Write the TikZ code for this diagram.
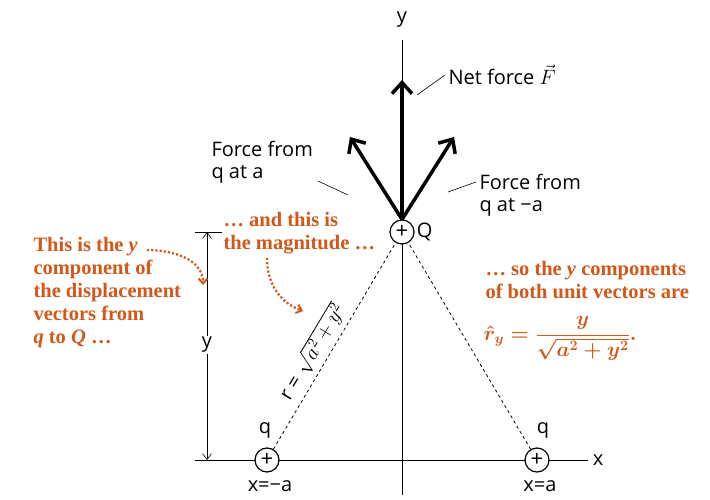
\documentclass[tikz,border=0pt]{standalone}
\usepackage{fontspec}
\setmainfont{Liberation Serif}
\newfontfamily\hand{Open Sans}
\usetikzlibrary{arrows.meta}
\definecolor{org}{HTML}{D2581A}
\begin{document}
\begin{tikzpicture}[x=1pt,y=-1pt,
  hw/.style={font=\hand\fontsize{20}{22}\selectfont},
  note/.style={font=\bfseries\fontsize{20.5}{23}\selectfont,text=org,align=left},
  chg/.style={circle,draw,line width=1.2pt,minimum size=24pt,inner sep=0pt,font=\hand\fontsize{22}{22}\selectfont},
  force/.style={line width=3.5pt,-{Straight Barb[length=11pt,width=20pt,line width=3.5pt]}},
  lead/.style={line width=0.6pt},
  dot/.style={org,line width=2.2pt,dotted,-{Straight Barb[length=5pt,width=9pt,line width=2pt,sep=0pt]}}]
\useasboundingbox (0,0) rectangle (710,500);
% axes
\coordinate (yb) at (402,495); \coordinate (yt) at (402,40);
\coordinate (xl) at (220,460); \coordinate (xr) at (588,460);
\draw[line width=0.7pt] (yb) -- (yt);
\draw[line width=0.7pt] (xl) -- (xr);
\node[hw] (ylab) at (402,20) {y};
\node[hw] (xlab) at (598,460) {x};
% charges
\node[chg,fill=white] (Q) at (402,232) {+};
\node[hw,anchor=west,inner sep=2pt] (Qlab) at (Q.east) {Q};
\node[chg,fill=white] (q1) at (267,460) {+};
\node[chg,fill=white] (q2) at (537,460) {+};
\node[hw] (q1l) at (265,430) {q};
\node[hw] (q2l) at (543,430) {q};
\node[hw] (x1l) at (270,486) {x=−a};
\node[hw] (x2l) at (540,486) {x=a};
\draw[dashed,line width=0.8pt] (q1) -- (Q);
\draw[dashed,line width=0.8pt] (q2) -- (Q);
% dimension
\coordinate (dt) at (207,232); \coordinate (db) at (207,460);
\draw[line width=0.5pt] (195,232) -- (222,232);
\draw[line width=0.5pt] (195,460) -- (222,460);
\node[hw,fill=white,inner sep=1pt] (dy) at (207,345) {y};
\draw[line width=0.6pt,-{Straight Barb[length=6pt,width=9pt]}] (dy) -- (dt);
\draw[line width=0.6pt,-{Straight Barb[length=6pt,width=9pt]}] (dy) -- (db);
% forces
\coordinate (Fn) at (402,80); \coordinate (Fl) at (350,137); \coordinate (Fr) at (454,137);
\draw[force] (Q.north) -- (Fn);
\draw[force] (Q.north) -- (Fl);
\draw[force] (Q.north) -- (Fr);
\node[hw,anchor=west] (net) at (445,75) {Net force $\vec{F}$};
\draw[lead] (417,95) -- (net.west);
\node[hw,align=left,anchor=west] (fa) at (208,162) {Force from\\q at a};
\coordinate (fae) at (318,181);
\draw[lead] (fae) -- (348,195);
\node[hw,align=left,anchor=west] (fma) at (476,195) {Force from\\q at −a};
\draw[lead] (448,192) -- (476,182);
% r label
\node[hw,rotate=59] (rlab) at (312,352) {r = $\sqrt{a^2+y^2}$};
% notes
\node[note,anchor=north west] (n1) at (30,234) {This is the \textit{y}\\component of\\the displacement\\vectors from\\\textit{q} to \textit{Q} \dots};
\node[note,anchor=north west] (n2) at (220,209) {\dots\ and this is\\the magnitude \dots};
\node[note,anchor=north west] (n3) at (482,258) {\dots\ so the \textit{y} components\\of both unit vectors are};
\node[font=\boldmath\bfseries\fontsize{20}{22}\selectfont,text=org] (n4) at (560,338) {$\displaystyle\hat{r}_y=\frac{y}{\sqrt{a^2+y^2}}.$};
\coordinate (a1s) at (147,250); \coordinate (a1e) at (203,285);
\draw[dot] (a1s) to[out=0,in=90] (a1e);
\coordinate (a2s) at (267,258); \coordinate (a2e) at (303,311);
\draw[dot] (a2s) to[out=-90,in=160] (a2e);
\end{tikzpicture}
\end{document}
